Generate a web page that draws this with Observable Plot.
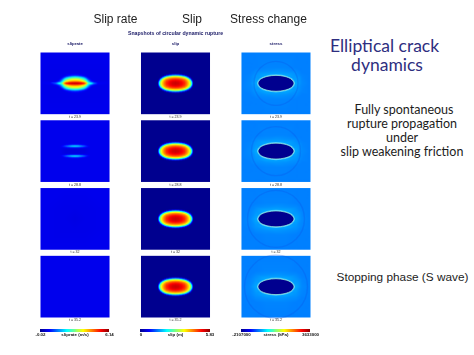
<!DOCTYPE html>
<html>
<head>
<meta charset="utf-8">
<style>
html,body{margin:0;padding:0;background:#fff;width:474px;height:355px;overflow:hidden}
#chart{position:absolute;left:0;top:0}
.note{position:absolute;white-space:nowrap;text-align:center;transform:translateX(-50%)}
</style>
<script src="https://cdn.jsdelivr.net/npm/d3@7"></script>
<script src="https://cdn.jsdelivr.net/npm/@observablehq/plot@0.6"></script>
</head>
<body>
<div id="chart"></div>
<script>
// Facets
const columns = ["sliprate", "slip", "stress"];
const times = ["t = 23.9", "t = 28.8", "t = 32", "t = 35.2"];
const headers = ["Slip rate", "Slip", "Stress change"];
const mainTitle = "Snapshots of circular dynamic rupture";
const barMin = ["-0.02", "0", "-2107000"];
const barLabel = ["sliprate (m/s)", "slip (m)", "stress (kPa)"];
const barMax = ["6.14", "5.83", "3633000"];

// Jet colour ramp (position along each colour bar -> colour)
const jetStops = [0, 0.125, 0.375, 0.625, 0.875, 1];
const jetColors = ["#00008f", "#0000ff", "#00ffff", "#ffff00", "#ff0000", "#800000"];

// Upper right quadrant of each field, as colour-bar position
const rateXs = [0, 3, 6, 9, 11, 13, 15, 17, 20, 25, 34.5];
const rateYs = [0, 1, 2, 3, 4, 5, 6, 7, 8, 10, 31];
const rateT1 = [
  [.97,.97,.94,.90,.78,.50,.46,.42,.24,.11,.105],
  [.86,.85,.82,.74,.60,.40,.30,.22,.14,.11,.105],
  [.74,.73,.69,.62,.50,.34,.21,.14,.11,.10,.105],
  [.66,.65,.61,.53,.43,.28,.16,.11,.10,.10,.105],
  [.60,.59,.54,.46,.35,.21,.13,.10,.10,.10,.105],
  [.52,.51,.46,.37,.26,.15,.11,.10,.10,.10,.105],
  [.42,.40,.35,.26,.17,.12,.10,.10,.10,.10,.105],
  [.28,.26,.21,.15,.12,.10,.10,.10,.10,.10,.105],
  [.16,.15,.13,.11,.10,.10,.10,.10,.10,.10,.105],
  [.10,.10,.10,.10,.10,.10,.10,.10,.10,.10,.105],
  [.105,.105,.105,.105,.105,.105,.105,.105,.105,.105,.105]
];
const rateT2 = [
  [.09,.09,.09,.09,.095,.10,.105,.105,.105,.105,.105],
  [.09,.09,.09,.09,.095,.10,.105,.105,.105,.105,.105],
  [.09,.09,.09,.09,.095,.10,.105,.105,.105,.105,.105],
  [.10,.10,.10,.10,.10,.10,.105,.105,.105,.105,.105],
  [.22,.21,.18,.15,.12,.11,.105,.105,.105,.105,.105],
  [.38,.36,.30,.23,.18,.13,.105,.105,.105,.105,.105],
  [.22,.21,.18,.15,.12,.11,.105,.105,.105,.105,.105],
  [.12,.12,.11,.11,.105,.105,.105,.105,.105,.105,.105],
  [.105,.105,.105,.105,.105,.105,.105,.105,.105,.105,.105],
  [.105,.105,.105,.105,.105,.105,.105,.105,.105,.105,.105],
  [.105,.105,.105,.105,.105,.105,.105,.105,.105,.105,.105]
];
const quietXs = [0, 10, 34.5];
const quietYs = [0, 10, 31];
const rateT3 = [[.095,.10,.105],[.10,.10,.105],[.105,.105,.105]];
const rateT4 = [[.105,.105,.105],[.105,.105,.105],[.105,.105,.105]];

const slipXs = [0, 3, 6, 9, 11, 13, 15, 16, 17, 18, 34.5];
const slipYs = [0, 2, 3, 4, 5, 6, 7, 8, 9, 10, 31];
const slipField = [
  [.93,.92,.89,.84,.77,.68,.55,.42,.22,0,0],
  [.91,.90,.87,.82,.75,.66,.50,.35,.15,0,0],
  [.88,.87,.84,.79,.72,.62,.42,.22,.05,0,0],
  [.84,.83,.80,.74,.67,.55,.28,.10,.02,0,0],
  [.78,.77,.73,.67,.58,.40,.12,.03,0,0,0],
  [.70,.69,.65,.56,.42,.20,.03,0,0,0,0],
  [.58,.56,.48,.35,.18,.05,0,0,0,0,0],
  [.38,.35,.25,.12,.04,0,0,0,0,0,0],
  [.12,.10,.05,.01,0,0,0,0,0,0,0],
  [0,0,0,0,0,0,0,0,0,0,0],
  [0,0,0,0,0,0,0,0,0,0,0]
];

const stressXs = [0, 10, 20, 26, 34.5];
const stressYs = [0, 8, 12, 16, 31];
const stressField = [
  [.29,.29,.29,.26,.25],
  [.29,.29,.27,.255,.25],
  [.27,.265,.26,.25,.25],
  [.255,.255,.25,.25,.25],
  [.25,.25,.25,.25,.25]
];

// Crack outline in the stress panels and the radius of the S wave front per snapshot
const crackX = [18, 15.6, 9, 0, -9, -15.6, -18, -15.6, -9, 0, 9, 15.6];
const crackY = [0, 4, 6.9, 8, 6.9, 4, 0, -4, -6.9, -8, -6.9, -4];
const frontRadius = [22, 24.5, 28.5, 31.5];

const barSteps = d3.range(0, 1, 1 / 70);

const panels = [
  ["sliprate", 0, rateXs, rateYs, rateT1],
  ["sliprate", 1, rateXs, rateYs, rateT2],
  ["sliprate", 2, quietXs, quietYs, rateT3],
  ["sliprate", 3, quietXs, quietYs, rateT4],
  ...times.map((_, r) => ["slip", r, slipXs, slipYs, slipField]),
  ...times.map((_, r) => ["stress", r, stressXs, stressYs, stressField])
];

const samples = [];
for (const [col, r, xs, ys, table] of panels) {
  ys.forEach((y, j) => xs.forEach((x, i) => {
    for (const sx of x === 0 ? [1] : [1, -1])
      for (const sy of y === 0 ? [1] : [1, -1])
        samples.push({col, row: times[r], x: sx * x, y: sy * y, v: table[j][i]});
  }));
}

const crack = times.flatMap(row => crackX.map((x, i) => ({col: "stress", row, x, y: crackY[i]})));
const fronts = times.map((row, i) => ({col: "stress", row, x: 0, y: 0, radius: frontRadius[i]}));
const last = times[times.length - 1];
const bars = columns.flatMap(col => barSteps.map(s => ({
  col, row: last, x1: -34.5 + 69 * s, x2: -34.5 + 69 * (s + 1 / 70) + 0.3, y1: -43, y2: -46, v: s
})));
const timeLabels = columns.flatMap(col => times.map(row => ({col, row, x: 0, y: -33.6, text: row})));
const barTexts = columns.flatMap((col, i) => [
  {col, row: last, x: -34.5, y: -48.3, text: barMin[i]},
  {col, row: last, x: 0, y: -48.3, text: barLabel[i]},
  {col, row: last, x: 34.5, y: -48.3, text: barMax[i]}
]);
const colTitles = columns.map(col => ({col, row: times[0], x: 0, y: 40.3, text: col}));
const headerOffset = [40.5, 16.5, -7.5];
const headerTexts = columns.map((col, i) => ({col, row: times[0], x: headerOffset[i], y: 65, text: headers[i]}));
const titleText = [{col: "slip", row: times[0], x: 0, y: 50, text: mainTitle}];

const facet = {fx: "col", fy: "row"};
const plot = Plot.plot({
  width: 474, height: 355,
  marginLeft: 40, marginRight: 164, marginTop: 52, marginBottom: 38,
  style: {background: "transparent", filter: "blur(0.35px)", overflow: "visible"},
  fx: {domain: columns, axis: null, paddingInner: 0.313, paddingOuter: 0, round: false, label: null},
  fy: {domain: times, axis: null, paddingInner: 0.09, paddingOuter: 0, round: false, label: null},
  x: {domain: [-34.5, 34.5], axis: null},
  y: {domain: [-31, 31], axis: null},
  r: {type: "identity"},
  color: {type: "linear", domain: jetStops, range: jetColors, clamp: true, legend: false},
  marks: [
    Plot.raster(samples, {...facet, x: "x", y: "y", fill: "v", interpolate: "barycentric", pixelSize: 1}),
    Plot.dot(fronts, {...facet, x: "x", y: "y", r: "radius", stroke: "#0a55e8", strokeWidth: 1.4, strokeOpacity: 0.3, fill: "none"}),
    Plot.line(crack, {...facet, x: "x", y: "y", curve: "catmull-rom-closed", stroke: "#7fe4ff", strokeWidth: 2.2, strokeOpacity: 0.5, fill: "none"}),
    Plot.line(crack, {...facet, x: "x", y: "y", curve: "catmull-rom-closed", stroke: "#a8ffe0", strokeWidth: 0.7, fill: "#00008f"}),
    Plot.rect(bars, {...facet, x1: "x1", x2: "x2", y1: "y1", y2: "y2", fill: "v", shapeRendering: "crispEdges"}),
    Plot.text(timeLabels, {...facet, x: "x", y: "y", text: "text", fontSize: 3.6, fill: "#333", fontFamily: "Liberation Sans"}),
    Plot.text(barTexts, {...facet, x: "x", y: "y", text: "text", textAnchor: "middle", fontSize: 4.4, fontWeight: "bold", fill: "#111", fontFamily: "Liberation Sans"}),
    Plot.text(colTitles, {...facet, x: "x", y: "y", text: "text", fontSize: 4.4, fontWeight: "bold", fill: "#1a1a66", fontFamily: "Liberation Sans"}),
    Plot.text(titleText, {...facet, x: "x", y: "y", text: "text", fontSize: 5.2, fontWeight: "bold", fill: "#1a1a66", fontFamily: "Liberation Sans"}),
    Plot.text(headerTexts, {...facet, x: "x", y: "y", text: "text", fontSize: 12, fill: "#222", fontFamily: "Liberation Sans"})
  ]
});
document.getElementById("chart").appendChild(plot);

// Slide notes at the right of the panels
const notes = [
  {text: "Elliptical crack", x: 384.5, y: 35, size: 17.5, color: "#2e2e80", font: "Lato"},
  {text: "dynamics", x: 387, y: 54, size: 17.5, color: "#2e2e80", font: "Lato"},
  {text: "Fully spontaneous", x: 404, y: 102, size: 12.5, color: "#1c1c1c", font: "Lato"},
  {text: "rupture propagation", x: 402, y: 116, size: 12.5, color: "#1c1c1c", font: "Lato"},
  {text: "under", x: 402, y: 130, size: 12.5, color: "#1c1c1c", font: "Lato"},
  {text: "slip weakening friction", x: 402, y: 144, size: 12.5, color: "#1c1c1c", font: "Lato"},
  {text: "Stopping phase (S wave)", x: 402.5, y: 270, size: 11.8, color: "#1c1c1c", font: "Liberation Sans"}
];
for (const n of notes) {
  const d = document.createElement("div");
  d.className = "note";
  d.textContent = n.text;
  d.style.cssText = `left:${n.x}px;top:${n.y}px;font:${n.size}px/1.2 '${n.font}',sans-serif;color:${n.color}`;
  document.body.appendChild(d);
}
</script>
</body>
</html>
